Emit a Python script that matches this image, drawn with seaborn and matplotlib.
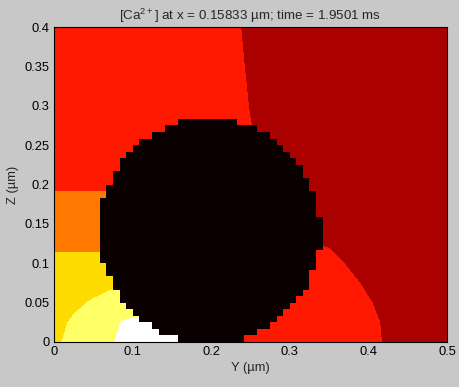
import numpy as np
import matplotlib
matplotlib.use("Agg")
import matplotlib.pyplot as plt
import seaborn as sns
from matplotlib.colors import ListedColormap

# ---------------- data ----------------
title_text = r"[Ca$^{2+}$] at x = 0.15833 µm; time = 1.9501 ms"
x_label = "Y (µm)"
y_label = "Z (µm)"

x_ticks = [0, 0.1, 0.2, 0.3, 0.4, 0.5]
x_tick_labels = ["0", "0.1", "0.2", "0.3", "0.4", "0.5"]
y_ticks = [0, 0.05, 0.1, 0.15, 0.2, 0.25, 0.3, 0.35, 0.4]
y_tick_labels = ["0", "0.05", "0.1", "0.15", "0.2", "0.25", "0.3", "0.35", "0.4"]

# sample positions of the estimated [Ca2+] level field (µm)
y_nodes = [0, .025, .05, .075, .1, .125, .15, .175, .2, .225, .25, .3, .35, .4, .45, .5]
z_nodes = [0, .025, .05, .075, .1, .15, .2, .25, .3, .35, .4]

# estimated level index (1 = dark red ... 6 = white), one list per z node
lev_z000 = [4.3, 4.8, 5.2, 5.45, 6.0, 6.1, 5.9, 5.6, 4.0, 2.6, 2.3, 2.2, 2.1, 1.75, 1.0, 1.0]
lev_z025 = [4.2, 4.62, 5.0, 5.4, 5.65, 5.7, 5.4, 4.0, 3.0, 2.5, 2.3, 2.2, 2.1, 1.7, 1.0, 1.0]
lev_z050 = [4.05, 4.3, 4.6, 4.8, 5.0, 5.0, 4.6, 3.8, 3.0, 2.6, 2.4, 2.3, 2.0, 1.55, 1.0, 1.0]
lev_z075 = [3.9, 4.0, 4.1, 4.35, 4.4, 4.2, 3.8, 3.4, 3.0, 2.7, 2.5, 2.3, 1.95, 1.37, 1.0, 1.0]
lev_z100 = [3.7, 3.7, 3.7, 3.75, 3.9, 3.6, 3.3, 3.0, 2.7, 2.4, 2.2, 2.0, 1.8, 1.0, 1.0, 1.0]
lev_z150 = [2.95, 2.95, 2.95, 2.95, 2.8, 2.6, 2.4, 2.2, 2.0, 1.8, 1.6, 1.3, 1.0, 1.0, 1.0, 1.0]
lev_z200 = [2.4, 2.4, 2.4, 2.4, 2.3, 2.2, 2.2, 2.1, 2.0, 1.9, 1.8, 1.3, 1.0, 1.0, 1.0, 1.0]
lev_z250 = [2.2, 2.2, 2.2, 2.2, 2.2, 2.1, 2.1, 2.1, 2.1, 2.1, 1.6, 1.0, 1.0, 1.0, 1.0, 1.0]
lev_z300 = [2.1, 2.1, 2.1, 2.1, 2.1, 2.1, 2.1, 2.1, 2.1, 2.0, 1.44, 1.0, 1.0, 1.0, 1.0, 1.0]
lev_z350 = [2.05, 2.05, 2.05, 2.05, 2.05, 2.05, 2.05, 2.05, 2.05, 2.0, 1.27, 1.0, 1.0, 1.0, 1.0, 1.0]
lev_z400 = [2.0, 2.0, 2.0, 2.0, 2.0, 2.0, 2.0, 2.0, 2.0, 2.0, 1.0, 1.0, 1.0, 1.0, 1.0, 1.0]

level_bounds = [0.5, 1.5, 2.5, 3.5, 4.5, 5.5, 6.5]
level_colors = ["#AA0000", "#FF1900", "#FF7800", "#FFDC00", "#FFFF66", "#FFFFFF"]

# obstacle (black) cross-section, sampled on the 1/120 µm simulation grid
obstacle_center = (0.198, 0.141)
obstacle_semi_axes = (0.141, 0.143)
obstacle_exponent = 2.0
grid_step = 1 / 120
obstacle_color = "#0A0000"

# ---------------- figure ----------------
sns.set_style("ticks")
plt.rcParams["font.family"] = ["Liberation Sans", "DejaVu Sans"]
plt.rcParams["mathtext.fontset"] = "custom"
plt.rcParams["mathtext.rm"] = "Liberation Sans"
plt.rcParams["mathtext.it"] = "Liberation Sans:italic"

fig = plt.figure(figsize=(4.59, 3.87), dpi=100, facecolor="#C8C8C8")
ax = fig.add_axes([54 / 459, 45 / 387, 393 / 459, 315 / 387])

field = np.array([lev_z000, lev_z025, lev_z050, lev_z075, lev_z100, lev_z150,
                  lev_z200, lev_z250, lev_z300, lev_z350, lev_z400])
ax.contourf(y_nodes, z_nodes, field, levels=level_bounds, colors=level_colors,
            antialiased=False)

y_edges = np.arange(0, 0.5 + grid_step / 2, grid_step)
z_edges = np.arange(0, 0.4 + grid_step / 2, grid_step)
yc = (y_edges[:-1] + y_edges[1:]) / 2
zc = (z_edges[:-1] + z_edges[1:]) / 2
YC, ZC = np.meshgrid(yc, zc)
p = obstacle_exponent
inside = (np.abs((YC - obstacle_center[0]) / obstacle_semi_axes[0]) ** p
          + np.abs((ZC - obstacle_center[1]) / obstacle_semi_axes[1]) ** p) <= 1
ax.pcolormesh(y_edges, z_edges, np.ma.masked_where(~inside, np.ones_like(YC)),
              cmap=ListedColormap([obstacle_color]), shading="flat",
              antialiased=False, linewidth=0)

ax.set_xlim(0, 0.5)
ax.set_ylim(0, 0.4)
ax.set_xticks(x_ticks, x_tick_labels)
ax.set_yticks(y_ticks, y_tick_labels)
ax.tick_params(direction="in", top=True, right=True, length=4, width=0.6,
               labelsize=9.3, pad=3, colors="black")
for s in ax.spines.values():
    s.set_color("black")
    s.set_linewidth(0.8)

ax.set_title(title_text, fontsize=9.6, pad=5)
ax.set_xlabel(x_label, fontsize=9.3, labelpad=3)
ax.set_ylabel(y_label, fontsize=9.3, labelpad=4)

fig.savefig("out.png", dpi=100, facecolor=fig.get_facecolor())
